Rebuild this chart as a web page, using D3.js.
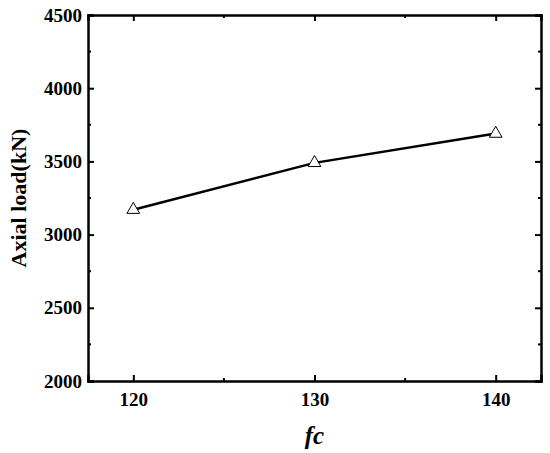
<!DOCTYPE html>
<html><head><meta charset="utf-8">
<script src="https://cdn.jsdelivr.net/npm/d3@7"></script>
<style>body{margin:0;background:#fff}text{font-family:"Liberation Serif","Times New Roman",serif;font-weight:bold}</style>
</head><body><svg id="c" width="550" height="453"></svg>
<script>
var fcValues = [120, 130, 140];
var axialLoad = [3170, 3490, 3690];
var xTicks = [120, 130, 140];
var yTicks = [2000, 2500, 3000, 3500, 4000, 4500];

var m = {l: 88, r: 541, t: 15, b: 381};
var svg = d3.select('#c');
var x = d3.scaleLinear().domain([117.5, 142.5]).range([m.l, m.r]);
var y = d3.scaleLinear().domain([2000, 4500]).range([m.b, m.t]);

// minor ticks
var g = svg.append('g').attr('stroke', '#000').attr('stroke-width', 2);
[125, 135].forEach(function(v){
    g.append('line').attr('x1', x(v)).attr('x2', x(v)).attr('y1', m.b).attr('y2', m.b - 3);
    g.append('line').attr('x1', x(v)).attr('x2', x(v)).attr('y1', m.t).attr('y2', m.t + 3);
});
d3.range(2250, 4500, 500).forEach(function(v){
    g.append('line').attr('x1', m.l).attr('x2', m.l + 3).attr('y1', y(v)).attr('y2', y(v));
    g.append('line').attr('x1', m.r).attr('x2', m.r - 3).attr('y1', y(v)).attr('y2', y(v));
});

var xa = svg.append('g').attr('transform', 'translate(0,' + m.b + ')')
    .call(d3.axisBottom(x).tickValues(xTicks).tickSize(-6).tickPadding(12).tickFormat(d3.format('d')));
var ya = svg.append('g').attr('transform', 'translate(' + m.l + ',0)')
    .call(d3.axisLeft(y).tickValues(yTicks).tickSize(-6).tickPadding(6).tickFormat(d3.format('d')));
svg.append('g').attr('transform', 'translate(0,' + m.t + ')')
    .call(d3.axisTop(x).tickValues(xTicks).tickSize(-6).tickFormat(''));
svg.append('g').attr('transform', 'translate(' + m.r + ',0)')
    .call(d3.axisRight(y).tickValues(yTicks).tickSize(-6).tickFormat(''));
svg.selectAll('.domain').attr('stroke-width', 2.5);
svg.selectAll('.tick line').attr('stroke-width', 2);
svg.selectAll('.tick text').attr('font-size', 19).attr('fill', '#000')
    .style('font-family', '"Liberation Serif",serif').style('font-weight', 'bold');

svg.append('path').datum(fcValues.map(function(d, i){ return [d, axialLoad[i]]; }))
    .attr('fill', 'none').attr('stroke', '#000').attr('stroke-width', 2.5)
    .attr('d', d3.line().x(function(d){ return x(d[0]); }).y(function(d){ return y(d[1]); }));
svg.selectAll('.pt').data(fcValues).enter().append('path')
    .attr('transform', function(d, i){ return 'translate(' + x(d) + ',' + y(axialLoad[i]) + ')'; })
    .attr('d', d3.symbol().type(d3.symbolTriangle).size(70))
    .attr('fill', '#fff').attr('stroke', '#000').attr('stroke-width', 1);

svg.append('text').attr('x', x(130)).attr('y', 444).attr('text-anchor', 'middle')
    .attr('font-size', 25).attr('font-style', 'italic').text('fc');
svg.append('text').attr('transform', 'translate(26,' + ((m.t + m.b) / 2) + ') rotate(-90)')
    .attr('text-anchor', 'middle').attr('font-size', 22).text('Axial load(kN)');
</script></body></html>
